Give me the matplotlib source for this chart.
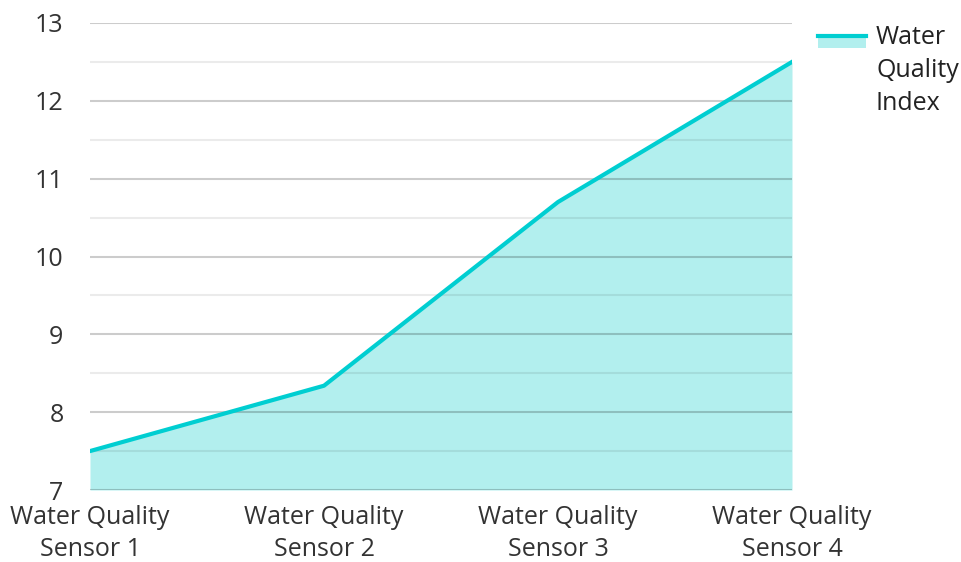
import numpy as np
import matplotlib.pyplot as plt
from matplotlib.lines import Line2D
from matplotlib.patches import Rectangle

plt.rcParams['font.family'] = ['Open Sans', 'DejaVu Sans']

sensors = ['Water Quality\nSensor 1', 'Water Quality\nSensor 2',
           'Water Quality\nSensor 3', 'Water Quality\nSensor 4']
wqi = [7.5, 8.34, 10.7, 12.5]
series_name = 'Water\nQuality\nIndex'

line_color = '#00CED1'
fill_color = '#B2EFEE'

fig = plt.figure(figsize=(9.62, 5.62), dpi=100)
ax = fig.add_axes([90 / 962, 1 - 490 / 562, 702 / 962, 467 / 562])

x = np.arange(len(sensors))
ax.fill_between(x, 7, wqi, color=fill_color, lw=0, zorder=1)
ax.plot(x, wqi, color=line_color, lw=3, zorder=3)

# gridlines sit on top of the fill so they show through it
for v in np.arange(7, 13.01, 1):
    ax.axhline(v, color='black', alpha=0.2, lw=1.5, zorder=2)
for v in np.arange(7.5, 13, 1):
    ax.axhline(v, color='black', alpha=0.08, lw=1.5, zorder=2)

ax.set_xlim(0, len(sensors) - 1)
ax.set_ylim(7, 13)
ax.set_xticks(x)
ax.set_xticklabels(sensors, fontsize=18, color='#333333', linespacing=1.36)
ax.set_yticks(range(7, 14))
ax.tick_params(axis='both', length=0, labelsize=18, labelcolor='#333333')
ax.tick_params(axis='y', pad=19)
ax.tick_params(axis='x', pad=11)
for s in ax.spines.values():
    s.set_visible(False)

# legend: swatch with line on top, label next to it
fig.add_artist(Rectangle((818 / 962, 1 - 47.5 / 562), 48 / 962, 12.5 / 562,
                         transform=fig.transFigure, color=fill_color, lw=0))
fig.add_artist(Line2D([818 / 962, 866 / 962], [1 - 35.5 / 562, 1 - 35.5 / 562],
                      transform=fig.transFigure, color=line_color, lw=3))
fig.text(876 / 962, 1 - 25 / 562, series_name, fontsize=18, color='#222222',
         va='top', ha='left', linespacing=1.42)

fig.savefig('out.png', dpi=100)
